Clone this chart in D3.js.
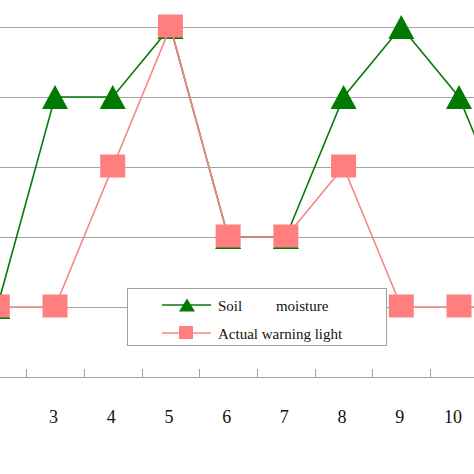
<!DOCTYPE html>
<html>
<head>
<meta charset="utf-8">
<script src="https://cdn.jsdelivr.net/npm/d3@7"></script>
<style>
  html, body { margin: 0; padding: 0; background: #fff; }
  svg { display: block; }
</style>
</head>
<body>
<div id="chart"></div>
<script>
"use strict";

/* chart values */
var categories = [2, 3, 4, 5, 6, 7, 8, 9, 10, 11];
var labelCategories = [3, 4, 5, 6, 7, 8, 9, 10];
var tickLabels = ["3", "4", "5", "6", "7", "8", "9", "10"];
var soilMoisture = [1, 4, 4, 5, 2, 2, 4, 5, 4, 2];
var warningLight = [1, 1, 3, 5, 2, 2, 3, 1, 1, 1];
var gridValues = [0, 1, 2, 3, 4, 5];
var seriesNames = ["Soil         moisture", "Actual warning light"];

(function() {

    var svg_dx = 474,
        svg_dy = 474;

    var svg = d3.select("#chart")
            .append("svg")
            .attr("width", svg_dx)
            .attr("height", svg_dy);

    // category centres are ~57.7px apart, the plot is cropped on both sides
    var x = d3.scaleLinear().domain([3, 10]).range([55, 459]),
        y = d3.scaleLinear().domain([0, 5]).range([377, 27]);

    // horizontal grid lines (value 0 is the axis line)
    svg.append("g")
        .selectAll("line")
        .data(gridValues)
        .enter()
        .append("line")
        .attr("x1", 0)
        .attr("x2", svg_dx)
        .attr("y1", d => Math.round(y(d)) + 0.5)
        .attr("y2", d => Math.round(y(d)) + 0.5)
        .attr("stroke", "#a3a3a3")
        .attr("stroke-width", 1);

    // ticks between categories, pointing up from the axis
    var tickPos = categories.map(d => d - 0.5);
    svg.append("g")
        .selectAll("line")
        .data(tickPos)
        .enter()
        .append("line")
        .attr("x1", d => Math.round(x(d)) + 0.5)
        .attr("x2", d => Math.round(x(d)) + 0.5)
        .attr("y1", Math.round(y(0)) + 0.5)
        .attr("y2", Math.round(y(0)) - 8)
        .attr("stroke", "#a3a3a3")
        .attr("stroke-width", 1);

    // category labels (right aligned just past the category centre)
    svg.append("g")
        .selectAll("text")
        .data(labelCategories)
        .enter()
        .append("text")
        .attr("x", d => x(d) + 3)
        .attr("y", 423)
        .attr("text-anchor", "end")
        .attr("font-family", "Liberation Serif, Times New Roman, serif")
        .attr("font-size", 18)
        .attr("fill", "#111")
        .text((d, i) => tickLabels[i]);

    var tri = function(w, h) {
        return "M0," + (-h / 2) + "L" + (w / 2) + "," + (h / 2) + "L" + (-w / 2) + "," + (h / 2) + "Z";
    };

    var line = d3.line()
        .x(d => x(d[0]))
        .y(d => y(d[1]));

    // soil moisture series
    var soil = categories.map((c, i) => [c, soilMoisture[i]]);
    svg.append("path")
        .attr("d", line(soil))
        .attr("fill", "none")
        .attr("stroke", "#0a7a0a")
        .attr("stroke-width", 1.6);

    svg.append("g")
        .selectAll("path")
        .data(soil)
        .enter()
        .append("path")
        .attr("transform", d => "translate(" + x(d[0]) + "," + y(d[1]) + ")")
        .attr("d", tri(26, 24))
        .attr("fill", "#007a00");

    // warning light series
    var warn = categories.map((c, i) => [c, warningLight[i]]);
    svg.append("path")
        .attr("d", line(warn))
        .attr("fill", "none")
        .attr("stroke", "#f58585")
        .attr("stroke-width", 1.6);

    svg.append("g")
        .selectAll("rect")
        .data(warn)
        .enter()
        .append("rect")
        .attr("x", d => x(d[0]) - 12.5)
        .attr("y", d => y(d[1]) - 12.5)
        .attr("width", 25)
        .attr("height", 23)
        .attr("fill", "#ff7f7f");

    // legend
    var legend = svg.append("g");
    legend.append("rect")
        .attr("x", 127.5)
        .attr("y", 288.5)
        .attr("width", 259)
        .attr("height", 57)
        .attr("fill", "#fff")
        .attr("stroke", "#a0a0a0")
        .attr("stroke-width", 1);

    var rows = [
        {y: 305, color: "#0a7a0a", mark: "tri"},
        {y: 333, color: "#f58585", mark: "sq"}
    ];

    rows.forEach(function(r, i) {
        legend.append("line")
            .attr("x1", 162)
            .attr("x2", 211)
            .attr("y1", r.y)
            .attr("y2", r.y)
            .attr("stroke", r.color)
            .attr("stroke-width", 1.6);
        if (r.mark === "tri") {
            legend.append("path")
                .attr("transform", "translate(187," + r.y + ")")
                .attr("d", tri(16, 13))
                .attr("fill", "#007a00");
        } else {
            legend.append("rect")
                .attr("x", 179)
                .attr("y", r.y - 7)
                .attr("width", 14)
                .attr("height", 13)
                .attr("fill", "#ff7f7f");
        }
        legend.append("text")
            .attr("x", 218)
            .attr("y", r.y + 6)
            .attr("font-family", "Liberation Serif, Times New Roman, serif")
            .attr("font-size", 15)
            .attr("fill", "#111")
            .style("white-space", "pre")
            .text(seriesNames[i]);
    });

})();
</script>
</body>
</html>
